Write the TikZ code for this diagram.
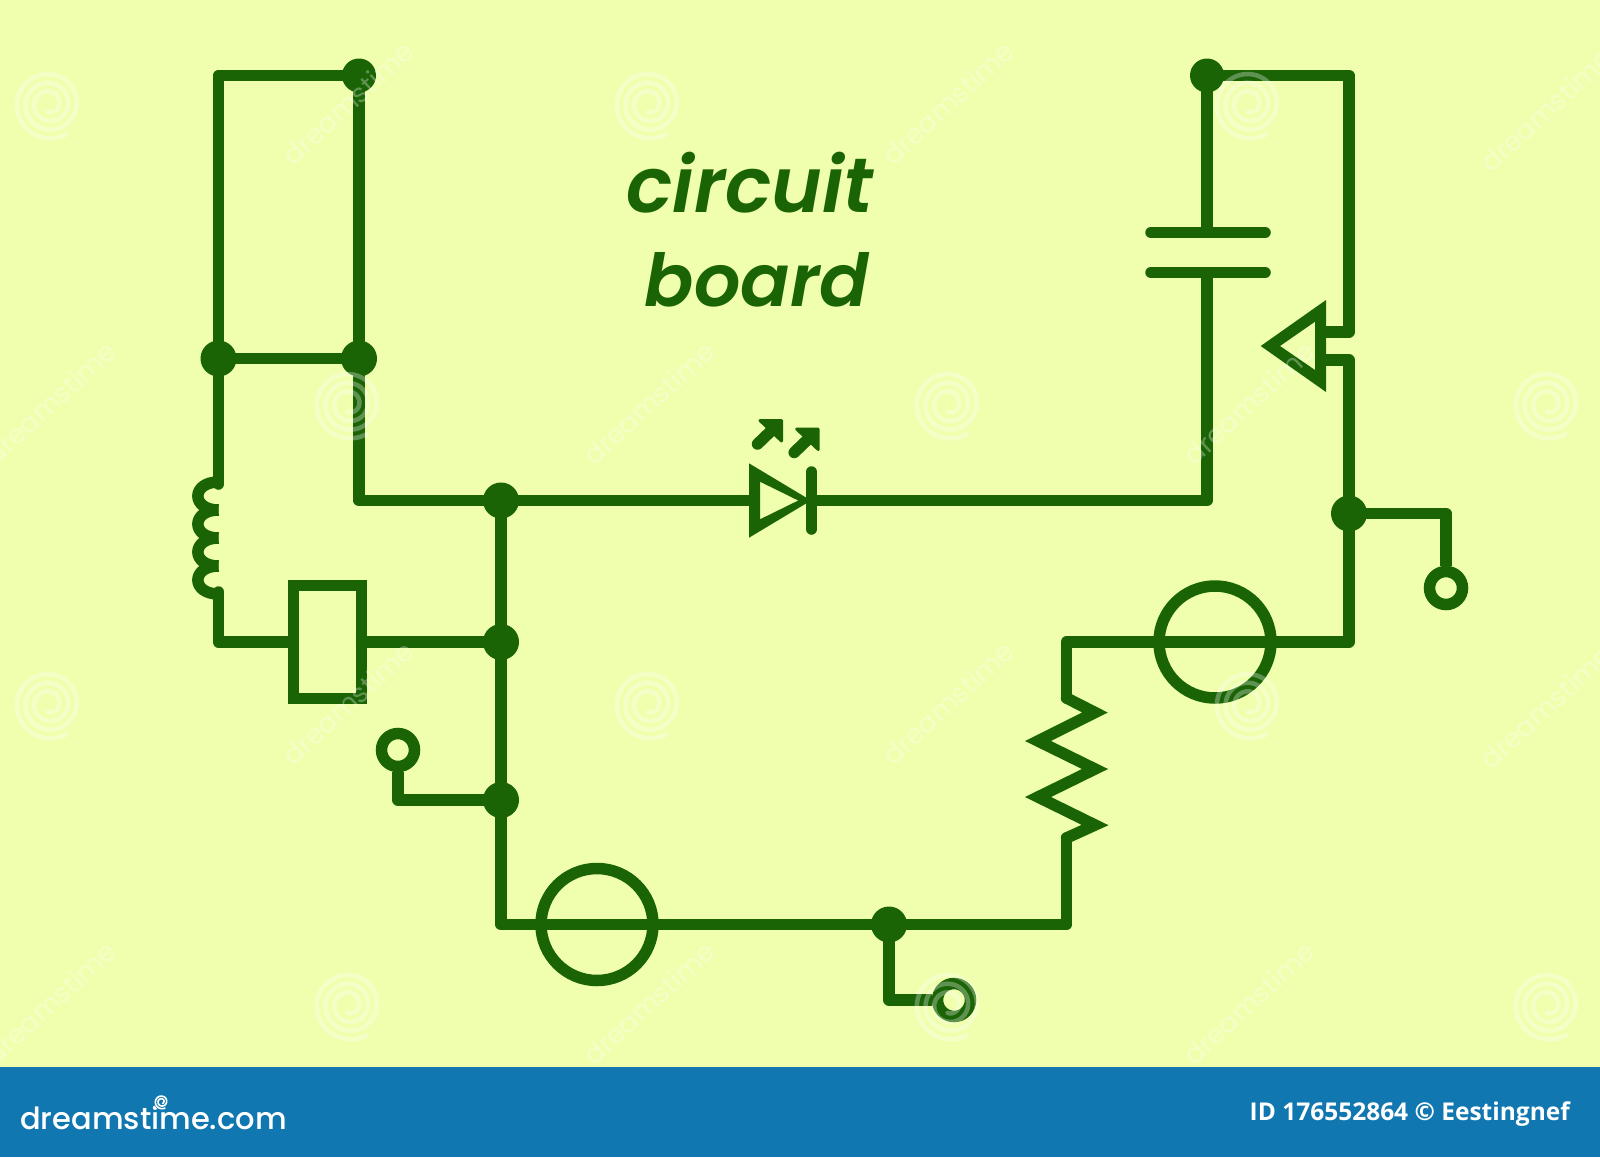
\documentclass[tikz,border=0pt]{standalone}
\usepackage{fontspec}
\setmainfont{Poppins}
\newfontfamily\idfont{Open Sans}
\newfontfamily\brandfont{Poppins Medium}
\newfontfamily\titlefont{Poppins SemiBold}[ItalicFont=Poppins SemiBold Italic]
\usetikzlibrary{calc}
\definecolor{paper}{HTML}{EFFFAE}
\definecolor{wire}{HTML}{1B6406}
\definecolor{band}{HTML}{1077B0}
\tikzset{
  wirestyle/.style={draw=wire,line width=11.5pt,line join=round},
  junction/.style={circle,fill=wire,minimum size=36pt,inner sep=0pt},
  topdot/.style={circle,fill=wire,minimum size=34pt,inner sep=0pt},
  terminal/.style={circle,draw=wire,line width=11.5pt,minimum size=33pt,inner sep=0pt},
  source/.style={circle,draw=wire,line width=11.5pt,minimum size=112pt,inner sep=0pt},
  title/.style={text=wire,font=\titlefont\fontsize{77}{77}\selectfont\itshape,anchor=base,inner sep=0pt},
  wmtext/.style={text=white,opacity=.3,font=\fontsize{27}{27}\selectfont,rotate=42.6,inner sep=0pt},
  wmspiral/.pic={\draw[white,opacity=.3,line width=4.5pt,line cap=round] plot[domain=60:1180,samples=120,smooth] ({\x}:{35-(\x-60)*0.0241});},
}
\begin{document}
\begin{tikzpicture}[x=1pt,y=-1pt]
\useasboundingbox (0,0) rectangle (1600,1157);
\fill[paper] (0,0) rectangle (1600,1067);
\fill[band] (0,1067) rectangle (1600,1157);

% nodes
\node[topdot] (tl) at (359,75.5) {};
\node[topdot] (tr) at (1207,75.5) {};
\node[junction] (a) at (218.5,358.5) {};
\node[junction] (b) at (359,358.5) {};
\node[junction] (c) at (501,500.5) {};
\node[junction] (d) at (501,642) {};
\node[junction] (e) at (501,800) {};
\node[junction] (f) at (889,924.5) {};
\node[junction] (g) at (1349,513.5) {};
\node[terminal] (t1) at (398,750) {};
\node[terminal] (t2) at (954,1000) {};
\node[terminal] (t3) at (1446,588) {};
\node[source] (s1) at (597,924.5) {};
\node[source] (s2) at (1215,642) {};
\node[draw=wire,line width=11.5pt,minimum width=68pt,minimum height=113pt,inner sep=0pt] (relay) at (327.5,642) {};

\coordinate (tlc) at (218.5,75.5);
\coordinate (ind1) at (218.5,482);
\coordinate (ind2) at (218.5,510);
\coordinate (ind3) at (218.5,538);
\coordinate (ind4) at (218.5,566);
\coordinate (ind5) at (218.5,594);
\coordinate (ind1w) at (218.5,484);
\coordinate (ind5w) at (218.5,592);
\coordinate (cap1) at (1207,232.5);
\coordinate (cap2) at (1207,272.5);
\coordinate (fetd) at (1349,75.5);
\coordinate (r1) at (1066.5,698);
\coordinate (r2) at (1066.5,838);
\coordinate (led1) at (749,500.5);
\coordinate (led2) at (811.5,500.5);

% wires
\draw[wirestyle] (a.center) -- (tlc) -- (tl.center) -- (b.center) -- (a.center);
\draw[wirestyle,line cap=round] (a.center) -- (ind1w);
\draw[wirestyle,line cap=round] (ind5w) -- (218.5,642) -- (relay.west);
\draw[wirestyle] (ind1) .. controls (191,482) and (191,510) .. (ind2);
\draw[wirestyle] (ind2) .. controls (191,510) and (191,538) .. (ind3);
\draw[wirestyle] (ind3) .. controls (191,538) and (191,566) .. (ind4);
\draw[wirestyle] (ind4) .. controls (191,566) and (191,594) .. (ind5);
\draw[wirestyle] (relay.east) -- (d.center);
\draw[wirestyle] (b.center) |- (c.center) -- (led1);
\draw[wirestyle] (led2) -| (cap2);
\draw[wirestyle] (c.center) -- (d.center) -- (e.center) |- (f.center);
\draw[wirestyle] (e.center) -| (t1.south);
\draw[wirestyle] (f.center) |- (t2.west);
\draw[wirestyle,line cap=round] (f.center) -| (r2);
\draw[wirestyle,miter limit=10,line join=miter,line cap=round] (r2) -- (1095,825) -- (1038,797) -- (1095,769) -- (1038,741) -- (1095,712.5) -- (r1);
\draw[wirestyle,line cap=round] (r1) |- (s2.center) -| (g.center);
\draw[wirestyle] (g.center) -| (t3.north);
\draw[wirestyle] (g.center) |- (1322,360);
\draw[wirestyle] (tr.center) -- (fetd) |- (1322,332);
\draw[wirestyle] (tr.center) -- (cap1);
\draw[wirestyle,line cap=round] (1151,232.5) -- (1265,232.5);
\draw[wirestyle,line cap=round] (1151,272.5) -- (1265,272.5);

% transistor triangle
\fill[wire,even odd rule] (1260.7,346) -- (1326,300) -- (1326,392) -- cycle
  (1280,346) -- (1315,321.7) -- (1315,370) -- cycle;

% LED
\fill[wire,even odd rule] (749,463.3) -- (749,537.7) -- (811,500.5) -- cycle
  (760,481.7) -- (760,519.3) -- (798.3,500.5) -- cycle;
\draw[wirestyle,line cap=round] (811.5,472) -- (811.5,529);
\foreach \dx/\dy in {0/0,36.7/8.5}{
  \begin{scope}[shift={(\dx,\dy)}]
    \filldraw[wire,line width=3pt,line join=round] (760,420.5) -- (781.5,420.5) -- (781.5,441) -- cycle;
    \draw[wirestyle,line cap=round] (771,431) -- (757.5,444);
  \end{scope}
}

% text
\node[title] (circuit) at (750,212.7) {circuit};
\node[title,font=\titlefont\fontsize{73}{73}\selectfont\itshape] (board) at (757,306.7) {board};

% footer
\node[text=white,font=\brandfont\fontsize{30.5}{30.5}\selectfont,anchor=base west,inner sep=0pt] (brand) at (20,1129) {dreamstime.com};
\node[text=white,font=\idfont\fontsize{24.5}{24.5}\selectfont\bfseries,anchor=base east,inner sep=0pt] (idtext) at (1570,1120) {ID 176552864 © Eestingnef};
\begin{scope}[shift={(161.7,1101.7)}]
  \fill[band] (0,0) circle (8);
  \draw[white,line width=1.6pt] plot[domain=60:800,samples=60,smooth] ({\x}:{7.2-(\x-60)*0.00743});
\end{scope}

% watermarks
\begin{scope}
  \clip (0,0) rectangle (1600,1067);
  \foreach \px/\py in {49/104,649/104,1249/104,349/404,949/404,1548/404,49/704,649/704,1249/704,349/1005,949/1005,1548/1005}
    \pic at (\px,\py) {wmspiral};
  \foreach \px/\py in {348/103,948/103,1546/110,50/403,649/403,1249/403,348/703,948/703,1546/707,50/1003,649/1003,1249/1003}
    \node[wmtext] at (\px,\py) {dreamstime};
\end{scope}
\end{tikzpicture}
\end{document}
